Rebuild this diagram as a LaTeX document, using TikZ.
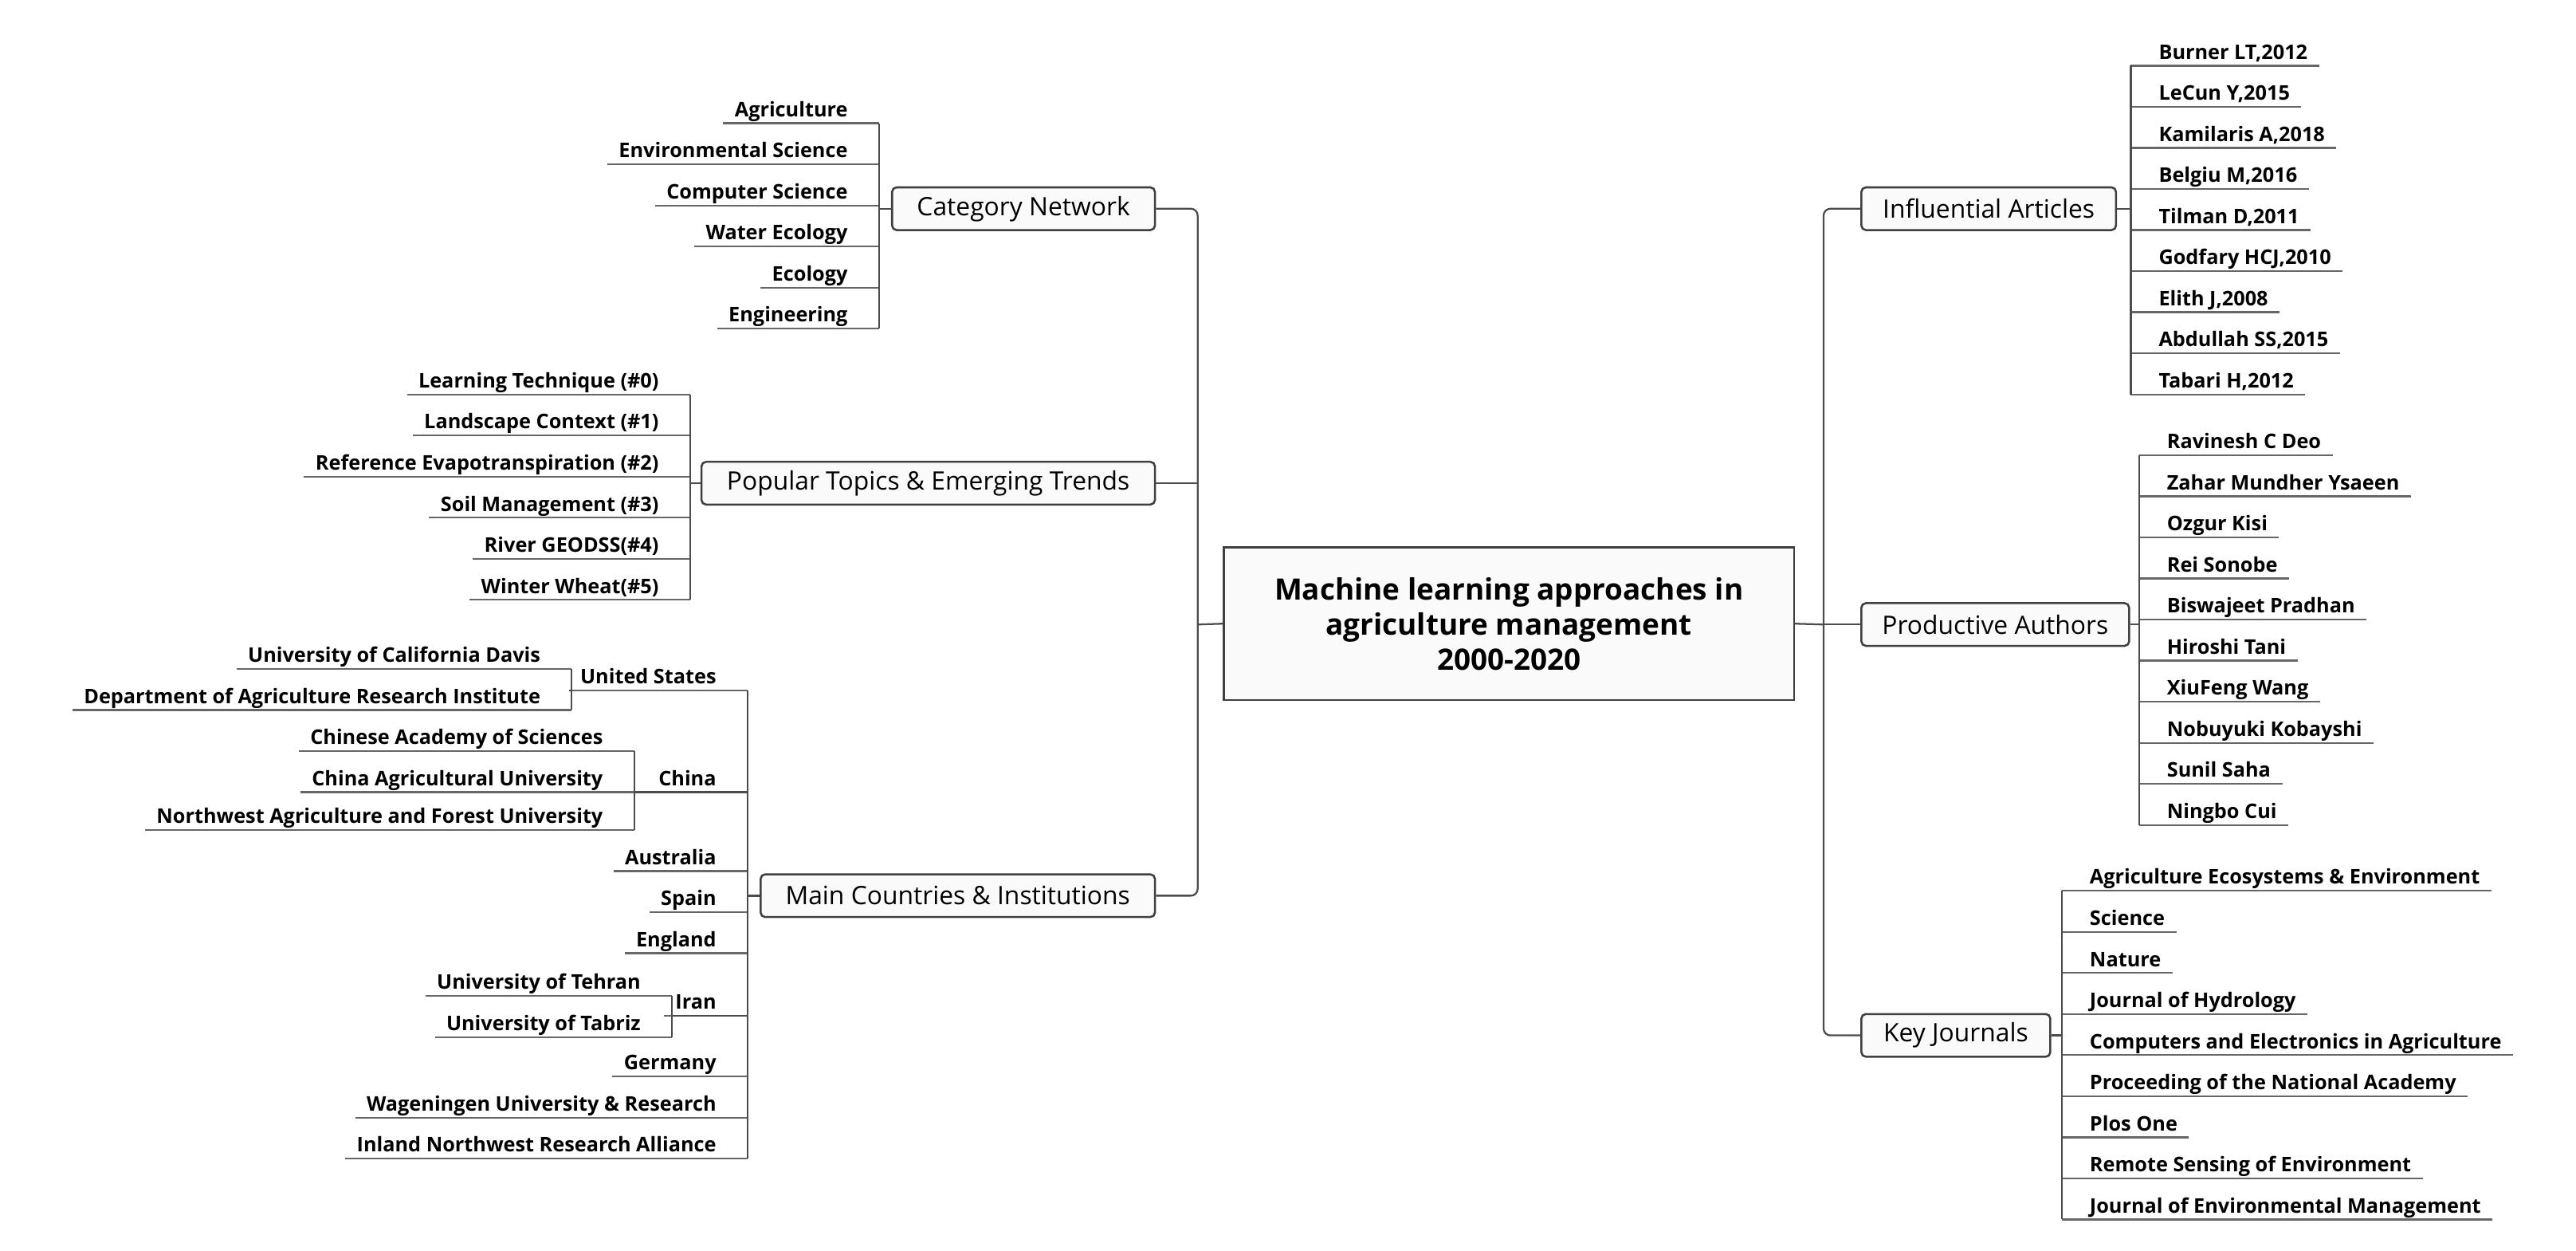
\documentclass[tikz,border=0pt]{standalone}
\usepackage{fontspec}
\setmainfont{Open Sans}
\usetikzlibrary{calc}
\tikzset{
 leaf/.style={font=\bfseries\fontsize{8.9}{10}\selectfont, inner sep=2pt},
 ul/.style={draw=black!60, line width=0.8pt},
 br/.style={draw=black!70, line width=0.8pt},
 branch/.style={draw=black!75, line width=0.9pt, rounded corners=2pt, fill=black!2, font=\fontsize{11.2}{12}\selectfont, inner sep=0pt},
}
\newcommand\leafL[4]{%
 \coordinate (#1u) at (#2,#3);
 \node[leaf,anchor=base east] (#1) at ($(#1u)+(-16,-4)$) {#4};
 \draw[ul] (#1u) -- ($(#1u -| #1.west)+(-4,0)$);}
\newcommand\leafR[4]{%
 \coordinate (#1u) at (#2,#3);
 \node[leaf,anchor=base west] (#1) at ($(#1u)+(14,-4)$) {#4};
 \draw[ul] (#1u) -- ($(#1u -| #1.east)+(4,0)$);}
\begin{document}
\begin{tikzpicture}[x=0.2551mm,y=-0.2551mm]
\useasboundingbox (0,0) rectangle (1568,761);
% center
\node[draw=black!75, line width=0.9pt, fill=black!2, minimum width=347*0.2551mm, minimum height=93*0.2551mm, align=center, font=\bfseries\fontsize{13}{15.5}\selectfont] (c) at (918.5,379.5) {Machine learning approaches in\\agriculture management\\2000-2020};
% branch boxes
\node[branch, minimum width=160*0.2551mm, minimum height=26*0.2551mm] (cat) at (623,127) {Category Network};
\node[branch, minimum width=276*0.2551mm, minimum height=26*0.2551mm] (pop) at (565,294) {Popular Topics \& Emerging Trends};
\node[branch, minimum width=240*0.2551mm, minimum height=26*0.2551mm] (mc) at (583,545) {Main Countries \& Institutions};
\node[branch, minimum width=155*0.2551mm, minimum height=26*0.2551mm] (ia) at (1210.5,127) {Influential Articles};
\node[branch, minimum width=163*0.2551mm, minimum height=26*0.2551mm] (pa) at (1214.5,380) {Productive Authors};
\node[branch, minimum width=115*0.2551mm, minimum height=26*0.2551mm] (kj) at (1190.5,630) {Key Journals};
% trunk
\coordinate (lj) at (729,380); \coordinate (rj) at (1110,380);
\draw[br] (c.west) -- (lj); \draw[br] (c.east) -- (rj);
\draw[br,rounded corners=3pt] (cat.east) -| (lj) |- (mc.east);
\draw[br] (pop.east) -- (pop.east -| lj);
\draw[br,rounded corners=3pt] (ia.west) -| (rj) |- (kj.west);
\draw[br] (pa.west) -- (rj);
% category leaves
\foreach \y/\t [count=\i] in {75/Agriculture,100/Environmental Science,125/Computer Science,150/Water Ecology,175/Ecology,200/Engineering}{\leafL{cn\i}{535}{\y}{\t}}
\draw[br] (cn1u) -- (cn6u); \draw[br] (cat.west) -- (cat.west -| cn1u);
% popular topics
\foreach \y/\t [count=\i] in {240/Learning Technique (\#0),265/Landscape Context (\#1),290/Reference Evapotranspiration (\#2),315/Soil Management (\#3),340/River GEODSS(\#4),365/Winter Wheat(\#5)}{\leafL{pt\i}{420}{\y}{\t}}
\draw[br] (pt1u) -- (pt6u); \draw[br] (pop.west) -- (pop.west -| pt1u);
% main countries
\foreach \n/\y/\t in {us/420/United States,cn/482/China,au/530/Australia,es/555/Spain,en/580/England,ir/618/Iran,de/655/Germany,wu/680/Wageningen University \& Research,in/705/Inland Northwest Research Alliance}{\leafL{\n}{455}{\y}{\t}}
\draw[br] (usu) -- (inu); \draw[br] (mc.west) -- (mc.west -| usu);
\leafL{us1}{348}{407}{University of California Davis}
\leafL{us2}{348}{432}{Department of Agriculture Research Institute}
\draw[br] (us1u) -- (us2u); \draw[br] (us.west |- usu) ++(-4,0) -- (usu -| us1u);
\leafL{cn1}{386}{457}{Chinese Academy of Sciences}
\leafL{cn2}{386}{482}{China Agricultural University}
\leafL{cn3}{386}{505}{Northwest Agriculture and Forest University}
\draw[br] (cn1u) -- (cn3u); \draw[br] (cnu) -- (cn2u);
\leafL{ir1}{409}{606}{University of Tehran}
\leafL{ir2}{409}{631}{University of Tabriz}
\draw[br] (ir1u) -- (ir2u); \draw[br] (iru) -- (iru -| ir1u);
% influential articles
\foreach \t [count=\i] in {{Burner LT,2012},{LeCun Y,2015},{Kamilaris A,2018},{Belgiu M,2016},{Tilman D,2011},{Godfary HCJ,2010},{Elith J,2008},{Abdullah SS,2015},{Tabari H,2012}}{\leafR{a\i}{1297}{15+25*\i}{\t}}
\draw[br] (a1u) -- (a9u); \draw[br] (ia.east) -- (ia.east -| a1u);
% productive authors
\foreach \t [count=\i] in {Ravinesh C Deo,Zahar Mundher Ysaeen,Ozgur Kisi,Rei Sonobe,Biswajeet Pradhan,Hiroshi Tani,XiuFeng Wang,Nobuyuki Kobayshi,Sunil Saha,Ningbo Cui}{\leafR{p\i}{1302}{252+25*\i}{\t}}
\draw[br] (p1u) -- (p10u); \draw[br] (pa.east) -- (pa.east -| p1u);
% key journals
\foreach \t [count=\i] in {Agriculture Ecosystems \& Environment,Science,Nature,Journal of Hydrology,Computers and Electronics in Agriculture,Proceeding of the National Academy,Plos One,Remote Sensing of Environment,Journal of Environmental Management}{\leafR{j\i}{1255}{517+25*\i}{\t}}
\draw[br] (j1u) -- (j9u); \draw[br] (kj.east) -- (kj.east -| j1u);
\end{tikzpicture}
\end{document}
